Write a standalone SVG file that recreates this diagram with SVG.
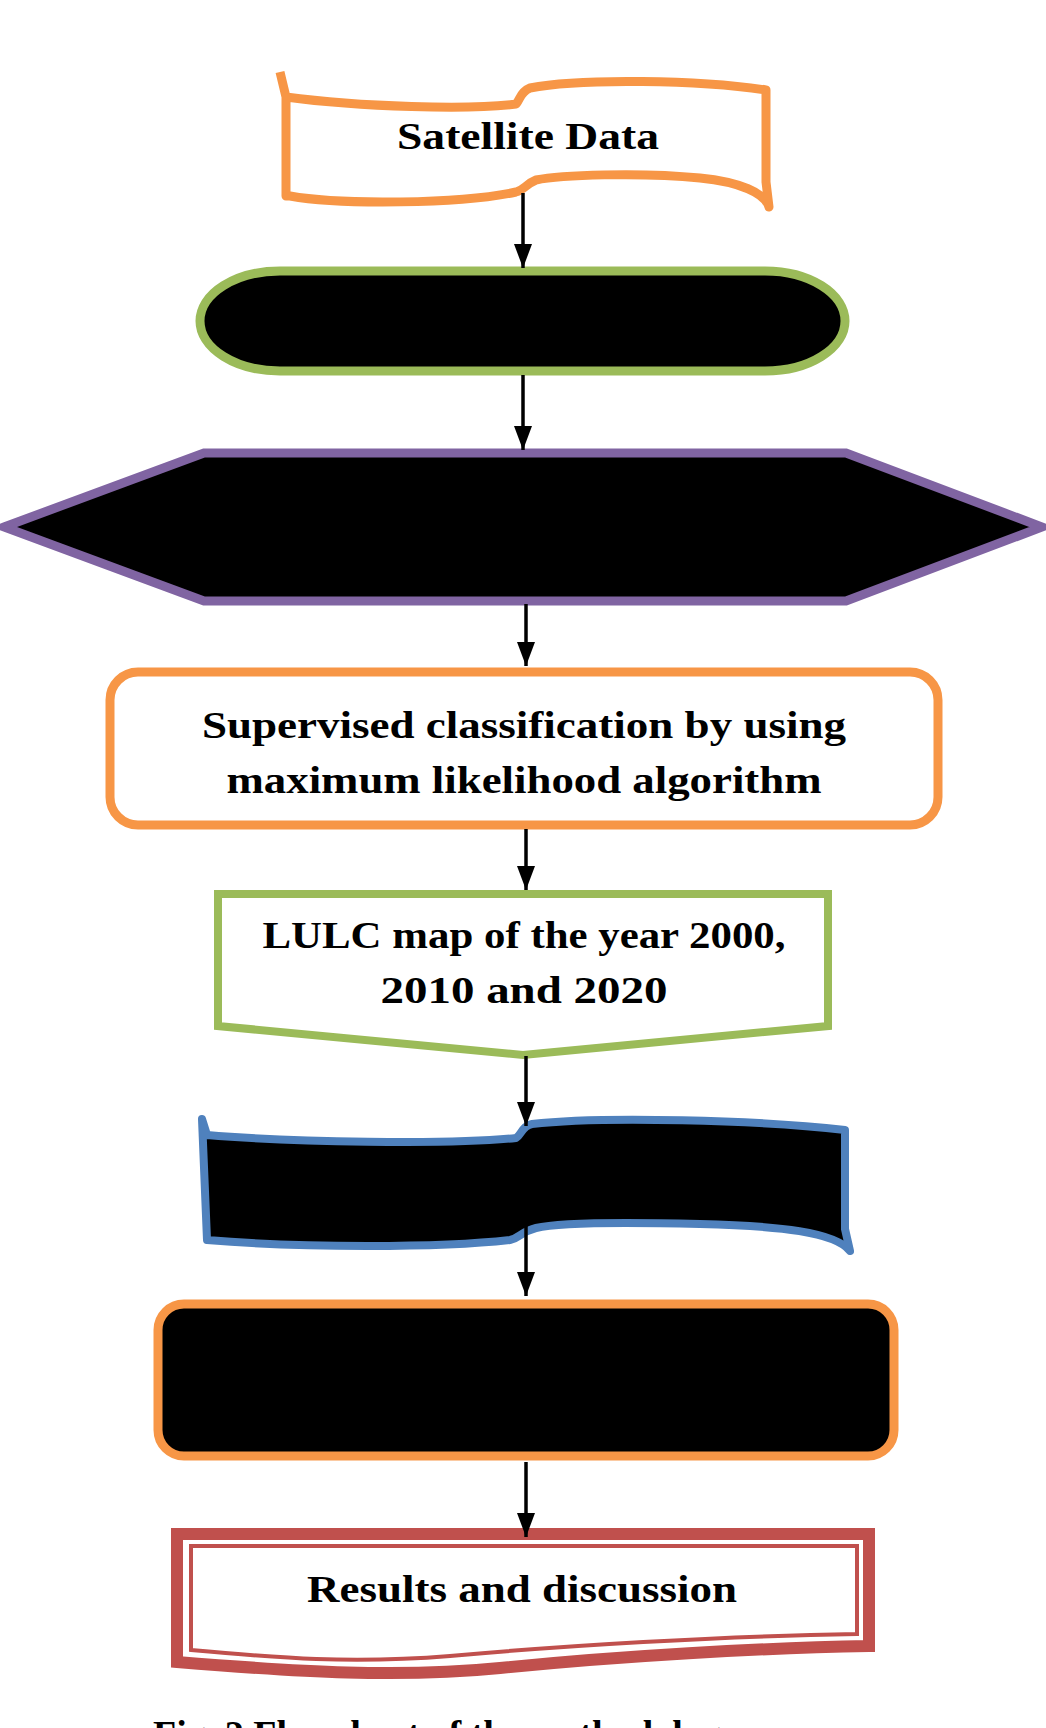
<svg xmlns="http://www.w3.org/2000/svg" width="1046" height="1728" viewBox="0 0 1046 1728">
<style>
text{font-family:"Liberation Serif",serif;font-weight:bold;font-size:38px;fill:#000;text-anchor:middle}
.c{stroke:#000;stroke-width:3.5;fill:none;marker-end:url(#ah)}
</style>
<defs>
<marker id="ah" markerUnits="userSpaceOnUse" markerWidth="24" markerHeight="18" refX="24" refY="9" orient="auto"><path d="M0,0 L24,9 L0,18 Z" fill="#000"/></marker>
</defs>
<rect width="1046" height="1728" fill="#fff"/>
<g id="n1">
<path d="M280,72 L286,97 C360,107 470,110 516,104 C520,100 520,92 530,88 C580,78 700,80 766,90 L766,182 L769,207 C765,193 740,182 700,178 C640,172 560,175 536,180 C526,184 524,190 516,192 C460,204 340,205 290,196 L286,196 L286,97" fill="#fff" stroke="#F79646" stroke-width="9" stroke-linejoin="round"/>
<text x="528" y="149" textLength="262" lengthAdjust="spacingAndGlyphs">Satellite  Data</text>
</g>
<g id="n2"><rect x="200" y="271" width="645" height="100" rx="80" ry="50" fill="#000" stroke="#9BBB59" stroke-width="9"/></g>
<g id="n3"><polygon points="4,527 204,453 846,453 1042,527 846,601 204,601" fill="#000" stroke="#8064A2" stroke-width="9"/></g>
<g id="n4">
<rect x="110" y="672" width="828" height="153" rx="28" fill="#fff" stroke="#F79646" stroke-width="9"/>
<text x="524" y="738" textLength="644" lengthAdjust="spacingAndGlyphs">Supervised classification by using</text>
<text x="524" y="793" textLength="595" lengthAdjust="spacingAndGlyphs">maximum likelihood algorithm</text>
</g>
<g id="n5">
<polygon points="218,894 828,894 828,1026 523,1055 218,1026" fill="#fff" stroke="#9BBB59" stroke-width="8"/>
<text x="524" y="948" textLength="523" lengthAdjust="spacingAndGlyphs">LULC map of the year 2000,</text>
<text x="524" y="1003" textLength="287" lengthAdjust="spacingAndGlyphs">2010 and 2020</text>
</g>
<g id="n6">
<path d="M202,1119 L207,1135 C290,1142 450,1145 516,1138 C522,1134 522,1126 532,1124 C600,1116 760,1120 845,1130 L845,1229 L850,1251 C835,1232 780,1226 700,1224 C620,1222 560,1222 536,1228 C520,1232 520,1238 510,1240 C440,1248 300,1248 207,1240 Z" fill="#000" stroke="#4F81BD" stroke-width="8" stroke-linejoin="round"/>
</g>
<g id="n7"><rect x="158" y="1304" width="736" height="152" rx="26" fill="#000" stroke="#F79646" stroke-width="9"/></g>
<g id="n8">
<path d="M177,1534 L869,1534 L869,1646 C760,1648 620,1656 500,1668 C400,1678 300,1672 177,1662 Z" fill="#fff" stroke="#C0504D" stroke-width="12"/>
<path d="M191,1546 L857,1546 L857,1634 C720,1636 560,1646 450,1656 C350,1664 280,1658 191,1650 Z" fill="none" stroke="#C0504D" stroke-width="4"/>
<text x="522" y="1602" textLength="430" lengthAdjust="spacingAndGlyphs">Results and discussion</text>
</g>
<g id="connectors">
<line class="c" x1="523" y1="193" x2="523" y2="268"/>
<line class="c" x1="523" y1="375" x2="523" y2="450"/>
<line class="c" x1="526" y1="604" x2="526" y2="666"/>
<line class="c" x1="526" y1="829" x2="526" y2="890"/>
<line class="c" x1="526" y1="1056" x2="526" y2="1126"/>
<line class="c" x1="526" y1="1223" x2="526" y2="1296"/>
<line class="c" x1="526" y1="1462" x2="526" y2="1537"/>
</g>
<text x="153" y="1747" style="text-anchor:start" font-size="40">Fig. 2 Flowchart of the methodology</text>
</svg>
